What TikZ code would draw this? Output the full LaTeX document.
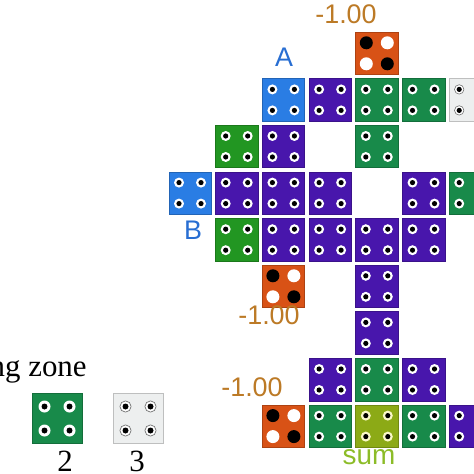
\documentclass[tikz,border=0pt]{standalone}
\usepackage{fontspec}
\setmainfont{Liberation Serif}
\setsansfont{Liberation Sans}
\usepackage{tikz}
\usetikzlibrary{calc}

\definecolor{tileblue}{RGB}{42,125,228}
\definecolor{tilepurple}{RGB}{72,22,172}
\definecolor{tileteal}{RGB}{24,138,74}
\definecolor{tilegreen}{RGB}{34,150,34}
\definecolor{tileorange}{RGB}{216,82,22}
\definecolor{tilegray}{RGB}{237,239,239}
\definecolor{tileolive}{RGB}{140,170,22}
\definecolor{ringyellow}{RGB}{250,248,200}
\definecolor{weighttext}{RGB}{188,122,38}
\definecolor{sumtext}{RGB}{140,188,40}
\definecolor{labeltext}{RGB}{40,110,210}

% four holes of a tile: white (or tinted) ring, black centre
\newcommand{\holesring}[2]{%
  \foreach \dx in {-1,1} \foreach \dy in {-1,1} {
    \fill[#2] ($(#1)+(11*\dx,10.5*\dy)$) circle (5bp);
    \fill[black] ($(#1)+(11*\dx,10.5*\dy)$) circle (2.6bp);
  }}
\newcommand{\holesw}[1]{\holesring{#1}{white}}
\newcommand{\holesy}[1]{\holesring{#1}{ringyellow}}
% grey tile: outlined rings
\newcommand{\holesg}[1]{%
  \foreach \dx in {-1,1} \foreach \dy in {-1,1} {
    \filldraw[fill=white, draw=black!55, line width=0.6bp] ($(#1)+(11*\dx,10.5*\dy)$) circle (4.7bp);
    \fill[black] ($(#1)+(11*\dx,10.5*\dy)$) circle (2.6bp);
  }}
% orange tile: solid black and white holes
\newcommand{\holeso}[1]{%
  \foreach \dx/\dy/\hc in {-1/-1/black,1/-1/white,-1/1/white,1/1/black}
    \fill[\hc] ($(#1)+(10.5*\dx,10.5*\dy)$) circle (6.5bp);}

\begin{document}
\begin{tikzpicture}[x=1bp, y=-1bp,
    tile/.style={minimum size=42.5bp, inner sep=0pt, fill=#1, draw=#1!80!black, line width=0.5bp},
    weight/.style={text=weighttext, font=\sffamily\fontsize{27}{27}\selectfont, inner sep=0pt},
    letter/.style={text=labeltext, font=\sffamily\fontsize{27}{27}\selectfont, inner sep=0pt},
    legend/.style={font=\fontsize{31}{31}\selectfont, inner sep=0pt}]
    \useasboundingbox (0,0) rectangle (474,474);
    \clip (0,0) rectangle (474,474);

    % grid of tiles: column/row/colour/holes
    \foreach \c/\r/\col/\h in {
        4/0/tileorange/o,
        2/1/tileblue/w, 3/1/tilepurple/w, 4/1/tileteal/w, 5/1/tileteal/w, 6/1/tilegray/g,
        1/2/tilegreen/w, 2/2/tilepurple/w, 4/2/tileteal/w,
        0/3/tileblue/w, 1/3/tilepurple/w, 2/3/tilepurple/w, 3/3/tilepurple/w, 5/3/tilepurple/w, 6/3/tileteal/w,
        1/4/tilegreen/w, 2/4/tilepurple/w, 3/4/tilepurple/w, 4/4/tilepurple/w, 5/4/tilepurple/w,
        2/5/tileorange/o, 4/5/tilepurple/w,
        4/6/tilepurple/w,
        3/7/tilepurple/w, 4/7/tileteal/w, 5/7/tilepurple/w,
        2/8/tileorange/o, 3/8/tileteal/w, 4/8/tileolive/y, 5/8/tileteal/w, 6/8/tilepurple/w}{
        \node[tile=\col] (t\c\r) at (190+46.7*\c, 53.3+46.6*\r) {};
        \csname holes\h\endcsname{t\c\r}
    }

    % weights and labels
    \node[weight] (w1) at (346,14.5) {-1.00};
    \node[weight] (w2) at (269,315) {-1.00};
    \node[weight] (w3) at (252,387) {-1.00};
    \node[letter] (la) at (284,57) {A};
    \node[letter] (lb) at (193,230) {B};
    \node[text=sumtext, font=\sffamily\fontsize{28}{28}\selectfont, inner sep=0pt] (sum) at (369,457) {sum};

    % legend
    \node[legend, anchor=base west] (zone) at (-10.5,376) {ng zone};
    \node[tile=tileteal, minimum size=50bp] (lg2) at (57,418.5) {};
    \node[tile=tilegray, minimum size=50bp] (lg3) at (138,418.5) {};
    \foreach \dx in {-1,1} \foreach \dy in {-1,1} {
        \fill[white] ($(lg2)+(12.5*\dx,12*\dy)$) circle (6bp);
        \fill[black] ($(lg2)+(12.5*\dx,12*\dy)$) circle (3bp);
        \filldraw[fill=white, draw=black!55, line width=0.7bp] ($(lg3)+(12.5*\dx,12*\dy)$) circle (5.6bp);
        \fill[black] ($(lg3)+(12.5*\dx,12*\dy)$) circle (3bp);
    }
    \node[legend, anchor=base] (n2) at (65,471) {2};
    \node[legend, anchor=base] (n3) at (137,471) {3};
\end{tikzpicture}
\end{document}
